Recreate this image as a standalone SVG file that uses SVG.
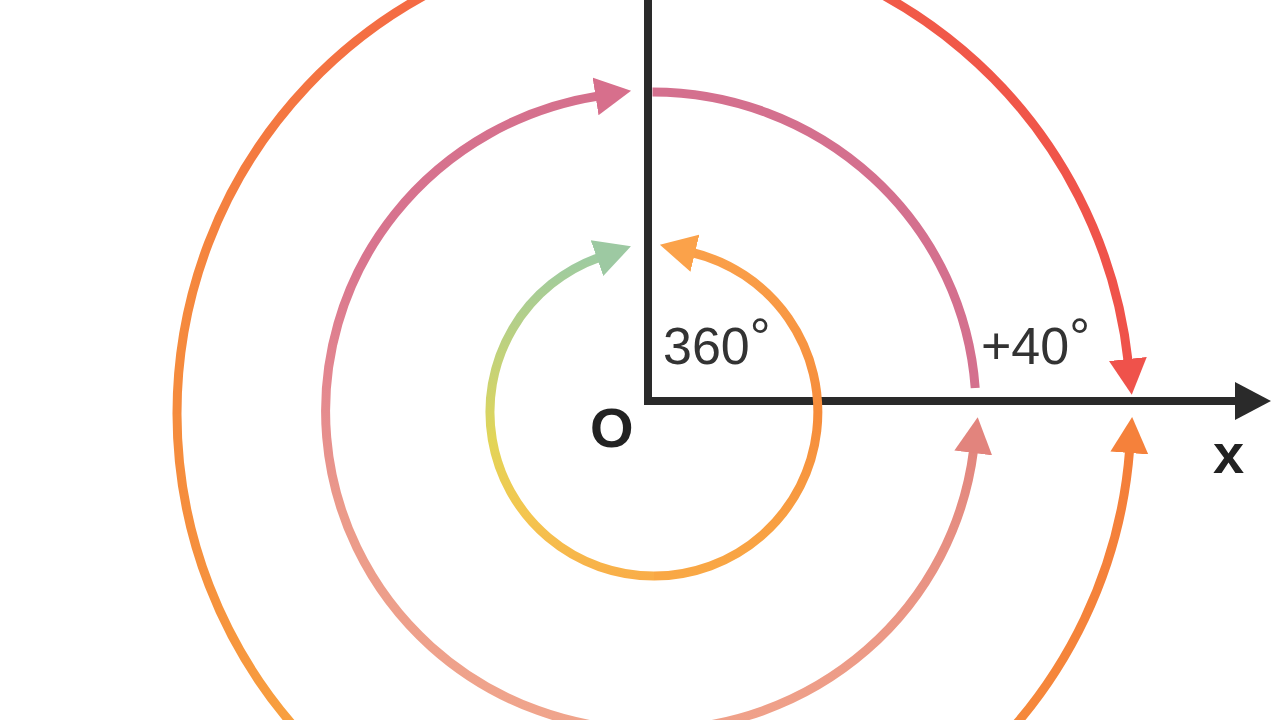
<svg xmlns="http://www.w3.org/2000/svg" width="1280" height="720" viewBox="0 0 1280 720">
  <style>
    .axis { fill: none; stroke: #2a2a2a; stroke-width: 8; stroke-linejoin: miter; stroke-linecap: butt; }
    .ring { fill: none; stroke-width: 9; stroke-linecap: butt; }
    .deg { font-family: "Liberation Sans", Arial, sans-serif; font-size: 52px; fill: #333333; }
    .lbl { font-family: "Liberation Sans", Arial, sans-serif; font-size: 56px; font-weight: bold; fill: #222222; }
  </style>
  <defs>
    <marker id="mk-axis" markerUnits="userSpaceOnUse" markerWidth="40" markerHeight="40" viewBox="0 -20 40 40" refX="3" refY="0" orient="auto"><path d="M0,-19 L36,0 L0,19 Z" fill="#2a2a2a"/></marker>
    <marker id="mk-red" markerUnits="userSpaceOnUse" markerWidth="40" markerHeight="40" viewBox="0 -20 40 40" refX="3" refY="0" orient="auto"><path d="M0,-19 L36,0 L0,19 Z" fill="#ef524b"/></marker>
    <marker id="mk-orange-o" markerUnits="userSpaceOnUse" markerWidth="40" markerHeight="40" viewBox="0 -20 40 40" refX="3" refY="0" orient="auto"><path d="M0,-19 L36,0 L0,19 Z" fill="#f5813b"/></marker>
    <marker id="mk-salmon" markerUnits="userSpaceOnUse" markerWidth="40" markerHeight="40" viewBox="0 -20 40 40" refX="3" refY="0" orient="auto"><path d="M0,-19 L36,0 L0,19 Z" fill="#e2847d"/></marker>
    <marker id="mk-pink" markerUnits="userSpaceOnUse" markerWidth="40" markerHeight="40" viewBox="0 -20 40 40" refX="3" refY="0" orient="auto"><path d="M0,-19 L36,0 L0,19 Z" fill="#d76f8c"/></marker>
    <marker id="mk-green" markerUnits="userSpaceOnUse" markerWidth="40" markerHeight="40" viewBox="0 -20 40 40" refX="3" refY="0" orient="auto"><path d="M0,-19 L36,0 L0,19 Z" fill="#9dc9a2"/></marker>
    <marker id="mk-orange-i" markerUnits="userSpaceOnUse" markerWidth="40" markerHeight="40" viewBox="0 -20 40 40" refX="3" refY="0" orient="auto"><path d="M0,-19 L36,0 L0,19 Z" fill="#fba24a"/></marker>

    <linearGradient id="g-inner-l" gradientUnits="userSpaceOnUse" x1="654" y1="576" x2="600" y2="257">
      <stop offset="0" stop-color="#f9ad48"/>
      <stop offset="0.25" stop-color="#f4c54f"/>
      <stop offset="0.5" stop-color="#e2d558"/>
      <stop offset="0.75" stop-color="#c2d27a"/>
      <stop offset="1" stop-color="#9ecba0"/>
    </linearGradient>
    <linearGradient id="g-inner-r" gradientUnits="userSpaceOnUse" x1="0" y1="576" x2="0" y2="250">
      <stop offset="0" stop-color="#f9a845"/>
      <stop offset="0.5" stop-color="#f68c3b"/>
      <stop offset="1" stop-color="#faa04a"/>
    </linearGradient>
    <linearGradient id="g-mid-l" gradientUnits="userSpaceOnUse" x1="0" y1="730" x2="0" y2="96">
      <stop offset="0" stop-color="#f0a58c"/>
      <stop offset="0.35" stop-color="#eb9a8a"/>
      <stop offset="0.55" stop-color="#e3878f"/>
      <stop offset="0.75" stop-color="#d8748e"/>
      <stop offset="1" stop-color="#d5708d"/>
    </linearGradient>
    <linearGradient id="g-mid-r" gradientUnits="userSpaceOnUse" x1="0" y1="730" x2="0" y2="450">
      <stop offset="0" stop-color="#f0a28a"/>
      <stop offset="1" stop-color="#e2867e"/>
    </linearGradient>
    <linearGradient id="g-out-top" gradientUnits="userSpaceOnUse" x1="177" y1="0" x2="1131" y2="0">
      <stop offset="0" stop-color="#f58b3d"/>
      <stop offset="0.08" stop-color="#f47a40"/>
      <stop offset="0.25" stop-color="#f46a44"/>
      <stop offset="0.6" stop-color="#f25f47"/>
      <stop offset="1" stop-color="#ef524a"/>
    </linearGradient>
    <linearGradient id="g-out-bot" gradientUnits="userSpaceOnUse" x1="177" y1="0" x2="1131" y2="0">
      <stop offset="0" stop-color="#f58c3d"/>
      <stop offset="0.12" stop-color="#f8a03f"/>
      <stop offset="0.3" stop-color="#f9a940"/>
      <stop offset="0.7" stop-color="#f8973c"/>
      <stop offset="1" stop-color="#f47f3a"/>
    </linearGradient>
  </defs>

  <rect x="0" y="0" width="1280" height="720" fill="#ffffff"/>

  <g id="axes">
    <path class="axis" d="M648,0 L648,401 L1238,401" marker-end="url(#mk-axis)"/>
  </g>

  <g id="connectors">
    <!-- inner ring (360°) -->
    <path class="ring" stroke="url(#g-inner-r)" d="M654,576 A164,164 0 0 0 692,252.5" marker-end="url(#mk-orange-i)"/>
    <path class="ring" stroke="url(#g-inner-l)" d="M654,576 A164,164 0 0 1 599.8,257.2" marker-end="url(#mk-green)"/>
    <!-- middle ring -->
    <path class="ring" stroke="url(#g-mid-l)" d="M652,730 A324,319 0 0 1 598.5,96" marker-end="url(#mk-pink)"/>
    <path class="ring" stroke="#d4708e" d="M652.5,92 A324,319 0 0 1 975.2,388"/>
    <path class="ring" stroke="url(#g-mid-r)" d="M652,730 A324,319 0 0 0 973.6,450" marker-end="url(#mk-salmon)"/>
    <!-- outer ring -->
    <path class="ring" stroke="url(#g-out-top)" d="M177,414 A477,477 0 0 1 1128.2,362" marker-end="url(#mk-red)"/>
    <path class="ring" stroke="url(#g-out-bot)" d="M177,414 A477,477 0 0 0 1129.6,450" marker-end="url(#mk-orange-o)"/>
  </g>

  <g id="labels">
    <text id="label-360" class="deg" x="663" y="364">360<tspan dy="-9">°</tspan></text>
    <text id="label-40" class="deg" x="981" y="364">+40<tspan dy="-9">°</tspan></text>
    <text id="label-o" class="lbl" x="590" y="447">O</text>
    <text id="label-x" class="lbl" x="1213" y="473" font-size="60">x</text>
  </g>
</svg>
